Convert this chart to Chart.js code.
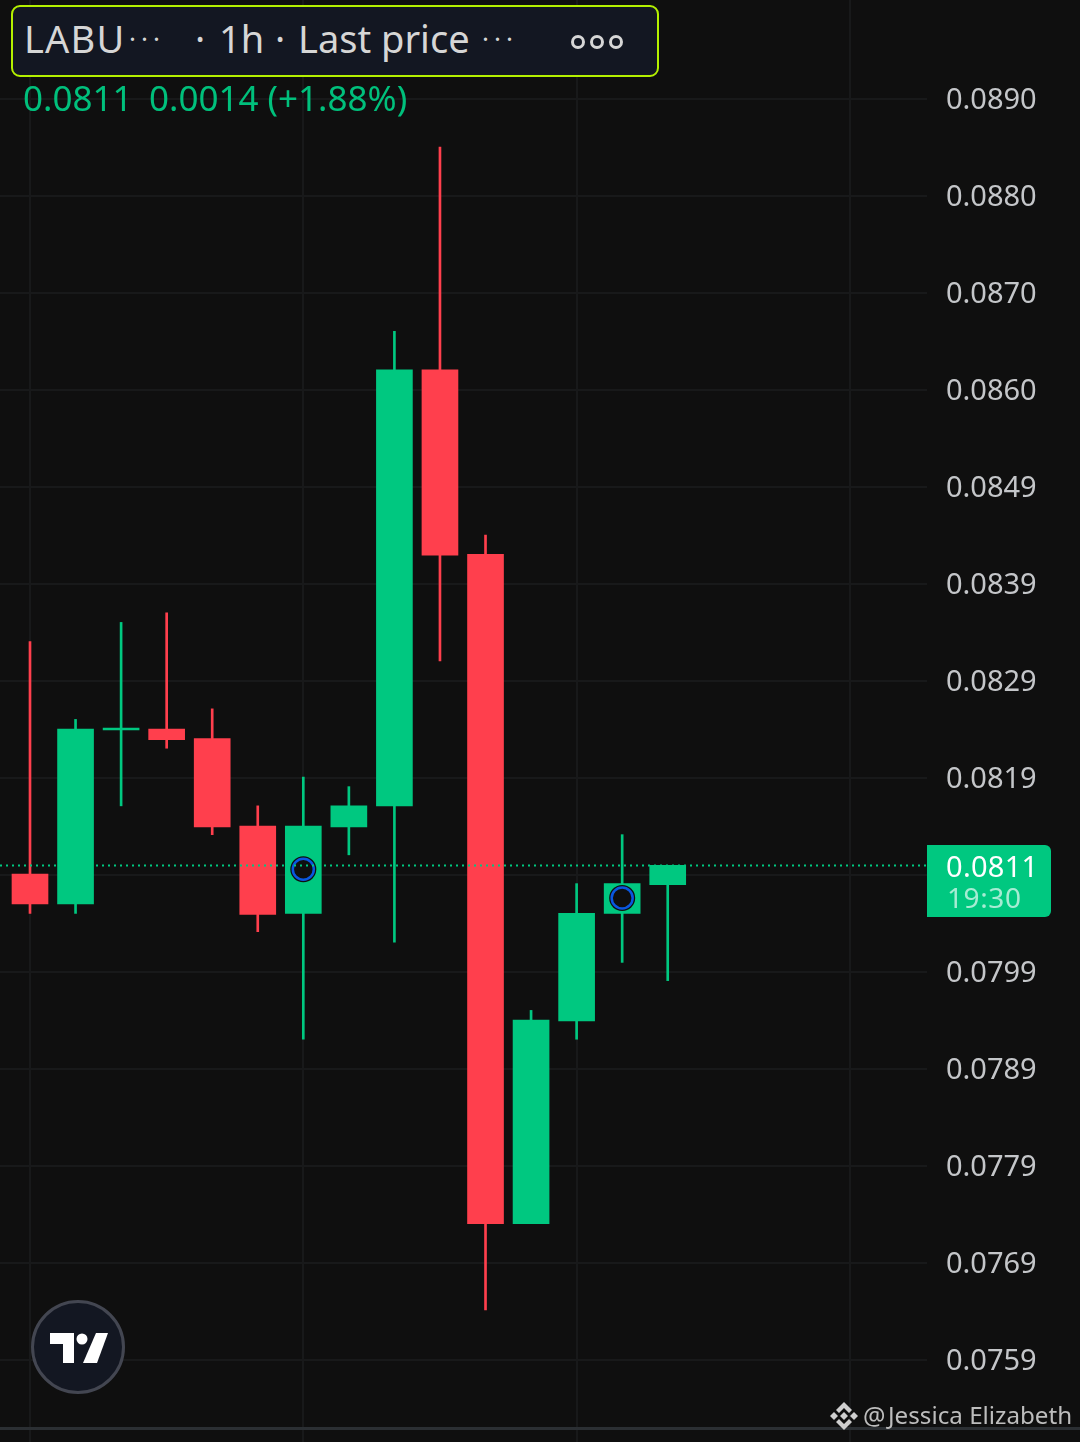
<!DOCTYPE html>
<html>
<head>
<meta charset="utf-8">
<title>LABU 1h</title>
<script src="https://cdn.jsdelivr.net/npm/chart.js@4/dist/chart.umd.min.js"></script>
<style>
  html, body { margin: 0; padding: 0; background: #0f0f0f; }
  #wrap { position: relative; width: 1080px; height: 1442px; overflow: hidden; font-family: "Noto Sans", sans-serif; }
  canvas { position: absolute; left: 0; top: 0; }
  .t { position: absolute; white-space: nowrap; line-height: 1; }
  #box { position: absolute; left: 11px; top: 5px; width: 644px; height: 68px; background: #131722; border: 2px solid #b4f000; border-radius: 9px; }
  .head { color: #d6d6d6; font-size: 38px; top: 19px; }
  .more { color: #d6d6d6; font-size: 26px; top: 25px; letter-spacing: 5px; }
  .ring { position: absolute; top: 35px; width: 8px; height: 8px; border: 3px solid #d6d6d6; border-radius: 50%; }
  .gain { color: #00c07c; font-size: 35px; top: 80px; }
  #tag { position: absolute; left: 927px; top: 845px; width: 124px; height: 72px; background: #00c880; border-radius: 0 6px 6px 0; }
  #rule { position: absolute; left: 0; top: 1427px; width: 1080px; height: 3px; background: #2b2f33; }
  svg { position: absolute; left: 0; top: 0; }
</style>
</head>
<body>
<div id="wrap">
  <canvas id="chart" width="1080" height="1442"></canvas>
  <div id="rule"></div>

  <div id="box"></div>
  <div class="t head" style="left:24px;letter-spacing:1.2px">LABU</div>
  <div class="t more" style="left:129px">···</div>
  <div class="t head" style="left:195px">·</div>
  <div class="t head" style="left:219px">1h</div>
  <div class="t head" style="left:275px">·</div>
  <div class="t head" style="left:298px">Last price</div>
  <div class="t more" style="left:482px">···</div>
  <div class="ring" style="left:571px"></div>
  <div class="ring" style="left:590px"></div>
  <div class="ring" style="left:609px"></div>

  <div class="t gain" style="left:23px">0.0811</div>
  <div class="t gain" style="left:149px">0.0014 (+1.88%)</div>

  <div id="tag"></div>
  <div class="t" style="left:946px;top:851px;font-size:29px;color:#ffffff;letter-spacing:.3px">0.0811</div>
  <div class="t" style="left:947px;top:883px;font-size:28px;color:#a6ecd3;letter-spacing:.6px">19:30</div>

  <svg width="1080" height="1442">
    <circle cx="78" cy="1347" r="45.5" fill="#131722" stroke="#434651" stroke-width="3"/>
    <path d="M50 1333H74V1363H63V1344H50Z" fill="#ffffff"/>
    <circle cx="82" cy="1339" r="5.5" fill="#ffffff"/>
    <path d="M96 1333H108L97 1363H83Z" fill="#ffffff"/>
    <g fill="#cfcfcf">
      <path d="M844 1402L852 1410L849 1413L844 1408L839 1413L836 1410Z"/>
      <path d="M844 1430L852 1422L849 1419L844 1424L839 1419L836 1422Z"/>
      <path d="M844 1412L848 1416L844 1420L840 1416Z"/>
      <path d="M834 1412L838 1416L834 1420L830 1416Z"/>
      <path d="M854 1412L858 1416L854 1420L850 1416Z"/>
    </g>
  </svg>
  <div class="t" style="left:863px;top:1403px;font-size:25px;color:#bdbdbd">@</div>
  <div class="t" style="left:888px;top:1403px;font-size:24.2px;color:#bdbdbd">Jessica Elizabeth</div>
</div>

<script>
// candle values
const candleIndex = [0, 1, 2, 3, 4, 5, 6, 7, 8, 9, 10, 11, 12, 13, 14];
const opens  = [0.08093, 0.08062, 0.08243, 0.08244, 0.08234, 0.08143, 0.08052, 0.08142, 0.08164, 0.08618, 0.08426, 0.07729, 0.07940, 0.08052, 0.08082];
const closes = [0.08062, 0.08244, 0.08244, 0.08233, 0.08142, 0.08051, 0.08143, 0.08164, 0.08618, 0.08425, 0.07729, 0.07941, 0.08052, 0.08083, 0.08102];
const highs  = [0.08335, 0.08254, 0.08355, 0.08365, 0.08265, 0.08164, 0.08194, 0.08184, 0.08658, 0.08850, 0.08446, 0.07951, 0.08083, 0.08134, 0.08102];
const lows   = [0.08052, 0.08052, 0.08164, 0.08224, 0.08134, 0.08033, 0.07921, 0.08113, 0.08022, 0.08315, 0.07639, 0.07729, 0.07921, 0.08001, 0.07982];

const lastPrice = 0.08102;
const markerIndex = [6, 13];
const markerPrices = [0.08098, 0.08068];

const priceTicks = [0.0890, 0.08799, 0.08698, 0.08597, 0.08496, 0.08395, 0.08294, 0.08193, 0.08092, 0.07991, 0.0789, 0.07789, 0.07688, 0.07587];
const priceLabels = ['0.0890', '0.0880', '0.0870', '0.0860', '0.0849', '0.0839', '0.0829', '0.0819', '', '0.0799', '0.0789', '0.0779', '0.0769', '0.0759'];
const timeTicks = [0, 6, 12, 18];

const GREEN = '#00c880';
const RED = '#ff3f4d';
const GRID = '#18191a';

const xMin = -0.6586, xMax = 19.692;
const colors = candleIndex.map(i => closes[i] >= opens[i] ? GREEN : RED);

// chart.js reserves room for half a tick label, the plot runs edge to edge here
function noPadding(s) {
  s.paddingTop = 0;
  s.paddingBottom = 0;
  s.paddingLeft = 0;
  s.paddingRight = 0;
}

new Chart(document.getElementById('chart'), {
  data: {
    datasets: [
      // dotted last price line goes over everything
      {
        type: 'line', order: 0, label: 'Last price',
        data: [{ x: xMin, y: lastPrice }, { x: xMax, y: lastPrice }],
        borderColor: GREEN, borderWidth: 2, borderDash: [2, 4], pointRadius: 0
      },
      {
        type: 'scatter', order: 1, label: 'Marker',
        data: markerIndex.map((x, i) => ({ x: x, y: markerPrices[i] })),
        pointRadius: 10.5, pointBackgroundColor: '#0f0f0f', pointBorderColor: '#0a57e0', pointBorderWidth: 2.5
      },
      {
        type: 'scatter', order: 2, label: 'Marker halo',
        data: markerIndex.map((x, i) => ({ x: x, y: markerPrices[i] })),
        pointRadius: 13, pointBackgroundColor: '#0f0f0f', pointBorderWidth: 0
      },
      {
        type: 'bar', order: 3, label: 'Body', grouped: false,
        data: candleIndex.map(i => ({ x: i, y: [opens[i], closes[i]] })),
        backgroundColor: colors, barThickness: 36, minBarLength: 2, borderSkipped: false, borderWidth: 0
      },
      {
        type: 'bar', order: 4, label: 'Wick', grouped: false,
        data: candleIndex.map(i => ({ x: i, y: [lows[i], highs[i]] })),
        backgroundColor: colors, barThickness: 2, borderSkipped: false, borderWidth: 0
      }
    ]
  },
  options: {
    responsive: false,
    animation: false,
    devicePixelRatio: 1,
    // the scatter radius would otherwise inset the whole plot
    layout: { padding: 0, autoPadding: false },
    plugins: { legend: { display: false }, tooltip: { enabled: false } },
    scales: {
      x: {
        type: 'linear', min: xMin, max: xMax, offset: false,
        afterBuildTicks: s => { s.ticks = timeTicks.map(v => ({ value: v })); },
        afterFit: s => { s.height = 0; noPadding(s); },
        ticks: { display: false },
        grid: { color: GRID, lineWidth: 2, drawTicks: false, offset: false },
        border: { display: false }
      },
      y: {
        type: 'linear', position: 'right', min: 0.075016, max: 0.090031,
        afterBuildTicks: s => { s.ticks = priceTicks.map(v => ({ value: v })); },
        afterFit: s => { s.width = 153; noPadding(s); },
        ticks: {
          autoSkip: false, padding: 19, labelOffset: 2, color: '#c4c6c9',
          font: { family: '"Noto Sans"', size: 29 },
          callback: (v, i) => priceLabels[i]
        },
        grid: { color: GRID, lineWidth: 2, drawTicks: false },
        border: { display: false }
      }
    }
  }
});
</script>
</body>
</html>
